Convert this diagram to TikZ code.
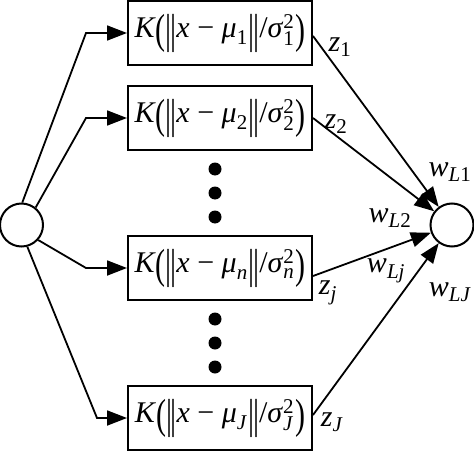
\documentclass[tikz,border=0pt]{standalone}
\usepackage{amsmath}
\usepackage{graphicx}
\usepackage{fontspec}
\setmainfont{Liberation Serif}
\usetikzlibrary{arrows.meta}
\tikzset{every picture/.style={line width=1.8pt}}
\tikzset{every node/.style={font=\fontsize{30}{34}\selectfont}}
\tikzset{kbox/.style={draw, line width=2pt, minimum width=184pt, minimum height=64pt, inner sep=0pt}}
\tikzset{neuron/.style={draw, circle, line width=2pt, minimum size=43pt, inner sep=0pt}}
\tikzset{vdot/.style={fill, circle, minimum size=13pt, inner sep=0pt}}
\tikzset{feed/.style={-{Triangle[length=20pt,width=15pt]}}}
\newcommand{\tall}[1]{\raisebox{-0.2em}{\scalebox{1}[1.4]{#1}}}
\newcommand{\dbar}{\tall{|\kern-1.5pt|}}
\newcommand{\kfun}[1]{\textit{K}\tall{(}\dbar\textit{x} − $\text{\textit{μ}}_{\text{#1}}$\kern1pt\dbar/$\text{\textit{σ}}^{\text{2}}_{\text{#1}}$\kern1pt\tall{)}}

\begin{document}
\begin{tikzpicture}[x=1pt,y=1pt]
              \useasboundingbox (0,0) rectangle (474,451);
              \node[neuron] (in) at (21.5,226) {};
              \node[neuron] (out) at (452,226) {};
              \node[kbox] (b1) at (220,418) {\kfun{1}};
              \node[kbox] (b2) at (220,333) {\kfun{2}};
              \node[kbox] (bn) at (220,183) {\kfun{\textit{n}}};
              \node[kbox] (bJ) at (220,33) {\kfun{\textit{J}}};
              \node[vdot] (d1) at (215,282) {};
              \node[vdot] (d2) at (215,258) {};
              \node[vdot] (d3) at (215,234) {};
              \node[vdot] (d4) at (215,132) {};
              \node[vdot] (d5) at (215,108) {};
              \node[vdot] (d6) at (215,84) {};
              \coordinate (e1) at (86,418);
              \coordinate (e2) at (86,333);
              \coordinate (en) at (86,183);
              \coordinate (eJ) at (97,33);
              \draw[feed] (in.88) -- (e1) -- (b1.west);
              \draw[feed] (in.51) -- (e2) -- (b2.west);
              \draw[feed] (in.-42) -- (en) -- (bn.west);
              \draw[feed] (in.-75) -- (eJ) -- (bJ.west);
              \draw[feed] ([yshift=-3pt]b1.east) -- (out);
              \draw[feed] (b2.east) -- (out);
              \draw[feed] ([yshift=-8pt]bn.east) -- (out);
              \draw[feed] ([yshift=3pt]bJ.east) -- (out);
              \node (z1) at (340,404) {\textit{z}$_{\text{1}}$};
              \node (z2) at (336,327) {\textit{z}$_{\text{2}}$};
              \node (zj) at (328,158) {\textit{z}$_{\text{\textit{j}}}$};
              \node (zJ) at (332,29) {\textit{z}$_{\text{\textit{J}}}$};
              \node (w1) at (450,279) {\textit{w}$_{\text{\textit{L}1}}$};
              \node (w2) at (390,233) {\textit{w}$_{\text{\textit{L}2}}$};
              \node (wj) at (386,180) {\textit{w}$_{\text{\textit{Lj}}}$};
              \node (wJ) at (450,159) {\textit{w}$_{\text{\textit{LJ}}}$};
            \end{tikzpicture}
\end{document}
